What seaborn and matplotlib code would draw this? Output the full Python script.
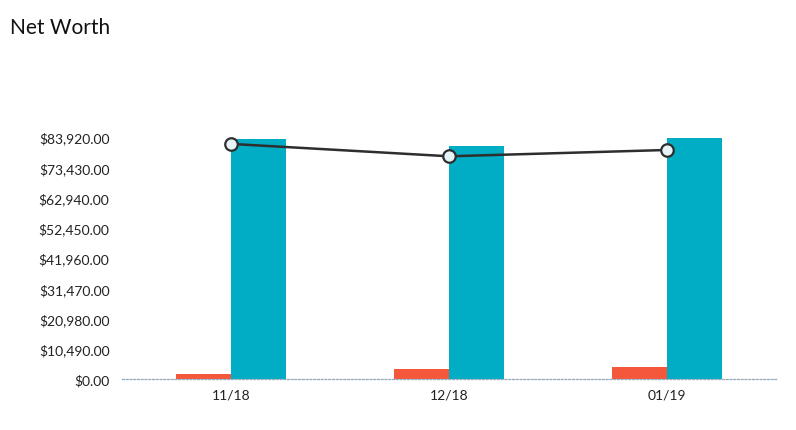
import numpy as np
import pandas as pd
import matplotlib.pyplot as plt
import seaborn as sns

# Data
months = ['11/18', '12/18', '01/19']
liabilities = [1700, 3470, 4160]
assets = [83230, 80700, 83580]
net_worth = [81530, 77230, 79420]
y_ticks = [0, 10490, 20980, 31470, 41960, 52450, 62940, 73430, 83920]

sns.set_style('white')
plt.rcParams['font.family'] = ['Lato', 'DejaVu Sans']

df = pd.DataFrame({
    'month': months * 2,
    'amount': liabilities + assets,
    'kind': ['Liabilities'] * 3 + ['Assets'] * 3,
})

fig = plt.figure(figsize=(7.96, 4.31), dpi=100)
ax = fig.add_axes([122 / 796, 51 / 431, 654 / 796, 242 / 431])

sns.barplot(data=df, x='month', y='amount', hue='kind',
            palette={'Liabilities': '#f5573b', 'Assets': '#00adc5'},
            width=0.505, saturation=1, linewidth=0, legend=False, ax=ax)

sns.lineplot(x=np.arange(len(months)), y=net_worth, color='#2e2e2e', lw=1.8,
             marker='o', markersize=9, markerfacecolor='#e6f4f8',
             markeredgecolor='#2e2e2e', markeredgewidth=1.6, ax=ax, zorder=5)

ax.set_xlim(-0.5, len(months) - 0.5)
ax.set_ylim(0, y_ticks[-1])
ax.set_yticks(y_ticks)
ax.set_yticklabels([f'${v:,.2f}' for v in y_ticks])
ax.set_xlabel('')
ax.set_ylabel('')
ax.tick_params(axis='both', length=0, labelsize=10, colors='#222222')
ax.tick_params(axis='y', pad=9)
ax.tick_params(axis='x', pad=7)

for side in ['top', 'right', 'left']:
    ax.spines[side].set_visible(False)
ax.spines['bottom'].set_linestyle((0, (1.5, 1.5)))
ax.spines['bottom'].set_color('#93a9bb')
ax.spines['bottom'].set_linewidth(0.9)

fig.text(10 / 796, 1 - 28 / 431, 'Net Worth', fontsize=15, va='center',
         ha='left', color='#111111')

fig.savefig('out.png', dpi=100)
